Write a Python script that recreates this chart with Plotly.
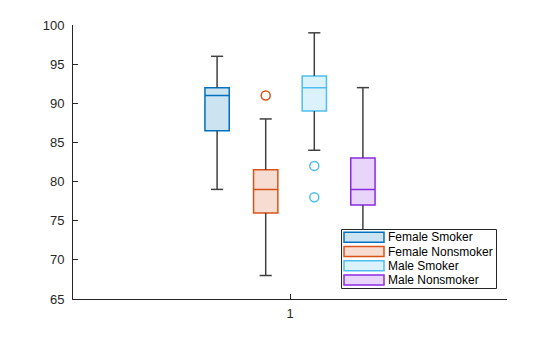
import plotly.graph_objects as go

# Diastolic blood pressure summaries by group
groups = ["Female Smoker", "Female Nonsmoker", "Male Smoker", "Male Nonsmoker"]
q1 = [86.5, 76, 89, 77]
median = [91, 79, 92, 79]
q3 = [92, 81.5, 93.5, 83]
lower_whisker = [79, 68, 84, 70]
upper_whisker = [96, 88, 99, 92]
outliers = [[], [91], [82, 78], []]

colors = ["#0072BD", "#D95319", "#4DBEEE", "#8C2BE0"]
fills = ["rgba(0,114,189,0.2)", "rgba(217,83,25,0.2)",
         "rgba(77,190,238,0.2)", "rgba(140,43,224,0.2)"]

W, H = 560, 337
ML, MR, MT, MB = 73, 53, 25, 38
plot_w, plot_h = W - ML - MR, H - MT - MB

category = 1
spacing = 0.112
box_w = 0.056
whisker_color = "#404040"
text_color = "#262626"
font_family = "Liberation Sans, Arial, sans-serif"

fig = go.Figure()

for i, name in enumerate(groups):
    pos = category + (i - (len(groups) - 1) / 2) * spacing
    cap = box_w / 4
    # whiskers with end caps, drawn beneath the box
    wx = [pos, pos, None, pos, pos, None,
          pos - cap, pos + cap, None, pos - cap, pos + cap]
    wy = [q3[i], upper_whisker[i], None, q1[i], lower_whisker[i], None,
          upper_whisker[i], upper_whisker[i], None,
          lower_whisker[i], lower_whisker[i]]
    fig.add_trace(go.Scatter(x=wx, y=wy, mode="lines",
                             line=dict(color=whisker_color, width=1.5),
                             showlegend=False, hoverinfo="skip"))
    fig.add_trace(go.Box(
        name=name, x=[pos], q1=[q1[i]], median=[median[i]], q3=[q3[i]],
        lowerfence=[q1[i]], upperfence=[q3[i]], width=box_w,
        whiskerwidth=0, line=dict(color=colors[i], width=1.5),
        fillcolor=fills[i], boxpoints=False, showlegend=False))
    if outliers[i]:
        fig.add_trace(go.Scatter(
            x=[pos] * len(outliers[i]), y=outliers[i], mode="markers",
            marker=dict(symbol="circle-open", size=9, color=colors[i],
                        line=dict(width=1.5)),
            showlegend=False, name=name))


# Legend box drawn in paper space (pixel offsets within the plot area)
def px_x(px):
    return (px - ML) / plot_w


def px_y(py):
    return (MT + plot_h - py) / plot_h


shapes = []
annotations = []
leg_left, leg_right, leg_top, leg_bottom = 341.5, 496.5, 229.5, 288.5
shapes.append(dict(type="rect", xref="paper", yref="paper",
                   x0=px_x(leg_left), x1=px_x(leg_right),
                   y0=px_y(leg_bottom), y1=px_y(leg_top),
                   line=dict(color=text_color, width=1), fillcolor="white",
                   layer="above"))
row_h = 14.3
first_row = 237.2
for i, name in enumerate(groups):
    cy = first_row + i * row_h
    shapes.append(dict(type="rect", xref="paper", yref="paper",
                       x0=px_x(344), x1=px_x(384),
                       y0=px_y(cy + 5), y1=px_y(cy - 5),
                       line=dict(color=colors[i], width=1.5),
                       fillcolor=fills[i], layer="above"))
    annotations.append(dict(xref="paper", yref="paper", x=px_x(386), y=px_y(cy),
                            text=name, showarrow=False, xanchor="left",
                            yanchor="middle",
                            font=dict(family=font_family, size=12, color="black")))

fig.update_layout(
    width=W, height=H,
    margin=dict(l=ML, r=MR, t=MT, b=MB),
    paper_bgcolor="white", plot_bgcolor="white",
    boxmode="overlay", showlegend=False,
    font=dict(family=font_family, size=13, color=text_color),
    xaxis=dict(range=[0.5, 1.5], tickvals=[category], ticktext=["1"],
               ticks="inside", ticklen=5, tickcolor=text_color,
               ticklabelstandoff=2,
               showline=True, linecolor=text_color, linewidth=1,
               showgrid=False, zeroline=False, fixedrange=True),
    yaxis=dict(range=[65, 100], dtick=5,
               ticks="inside", ticklen=5, tickcolor=text_color,
               ticklabelstandoff=5,
               showline=True, linecolor=text_color, linewidth=1,
               showgrid=False, zeroline=False),
    shapes=shapes,
    annotations=annotations,
)

fig.write_html("out.html")
